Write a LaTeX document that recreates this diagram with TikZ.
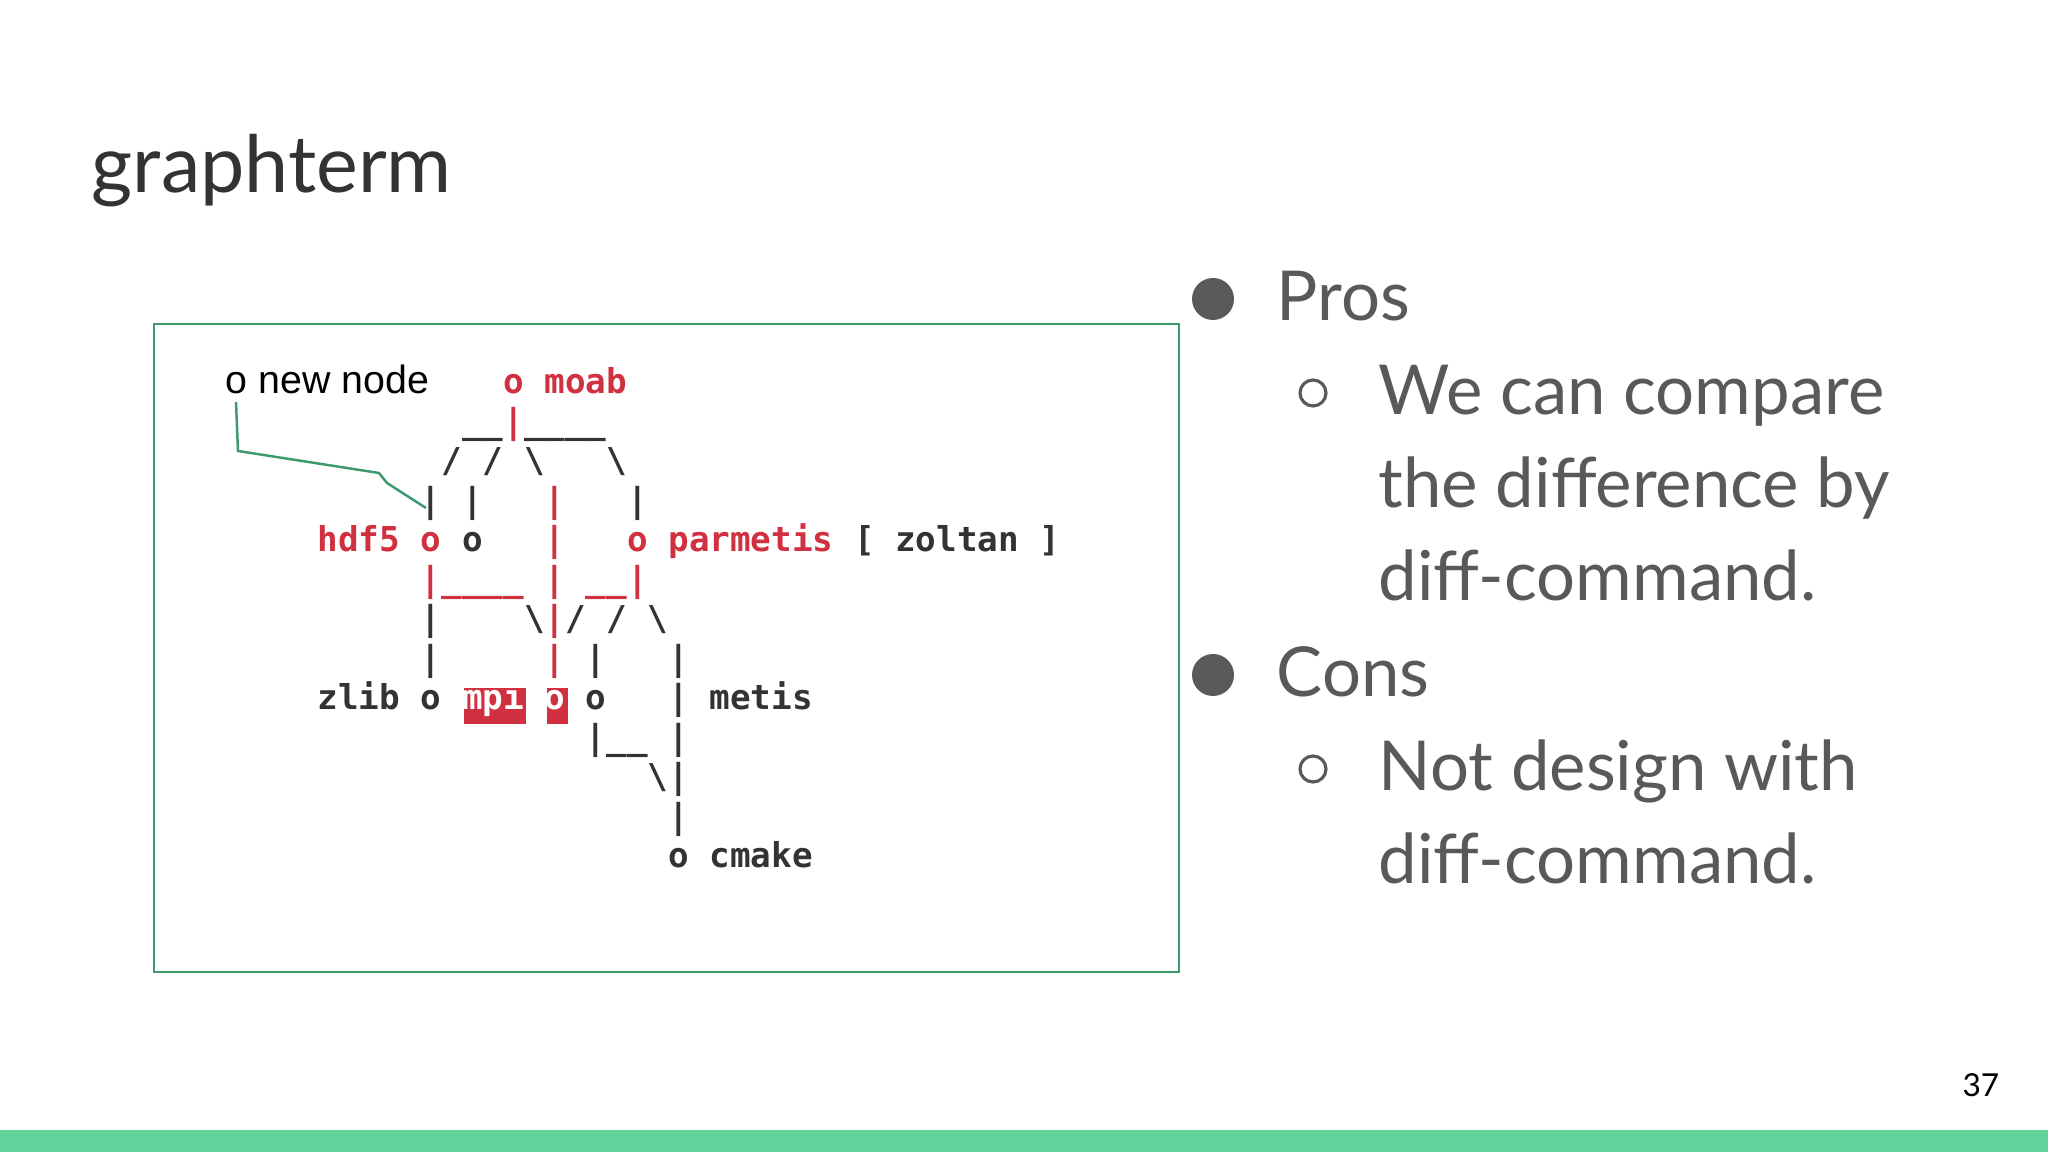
\documentclass[tikz,border=0pt]{standalone}
\usepackage{fontspec}
\setmainfont{Lato}
\newfontfamily\termfont{DejaVu Sans Mono Bold}
\newfontfamily\arialfont{Liberation Sans}
\definecolor{tr}{HTML}{D0303F}
\definecolor{tg}{HTML}{333333}
\definecolor{bx}{HTML}{3E9A6E}
\definecolor{bar}{HTML}{5FD39A}
\definecolor{txt}{HTML}{595959}
\newcommand{\R}[1]{\textcolor{tr}{#1}}
\newcommand{\W}[1]{\textcolor{white}{#1}}
\newcommand{\bs}{\textbackslash}
\tikzset{
  row/.style={anchor=base west,inner sep=0pt,font=\termfont\fontsize{9.75}{11}\selectfont,text=tg},
  bigdot/.style={circle,fill=txt,minimum size=4.2mm,inner sep=0pt},
  smalldot/.style={circle,draw=txt,line width=0.9pt,minimum size=2.6mm,inner sep=0pt},
  btxt/.style={anchor=base west,inner sep=0pt,text=txt,font=\fontsize{19.6}{24}\selectfont}
}
\begin{document}
\begin{tikzpicture}[x=0.1mm,y=-0.1mm]
\useasboundingbox (0,0) rectangle (2048,1152);
\fill[bar] (0,1130) rectangle (2048,1152);
\node[anchor=base west,inner sep=0pt,text=tg,font=\fontsize{22.5}{26}\selectfont] (title) at (91,193) {graphterm};
\node[anchor=base east,inner sep=0pt,text=black,font=\fontsize{9}{11}\selectfont] (pg) at (2000,1096) {37};
% box
\draw[bx,line width=0.7pt] (154,324) rectangle (1179,972);
% highlight
\fill[tr] (464,688) rectangle (526,724);
\fill[tr] (547,688) rectangle (568,724);
% terminal rows
\node[row] (r0) at (317,394) {~~~~~~~~~\R{o~moab}};
\node[row] (r1) at (317,433.5) {~~~~~~~\_\_\R{|}\_\_\_\_};
\node[row] (r2) at (317,473) {~~~~~~/~/~\bs~~~\bs};
\node[row] (r3) at (317,512.5) {~~~~~|~|~~~\R{|}~~~|};
\node[row] (r4) at (317,552) {\R{hdf5~o}~o~~~\R{|}~~~\R{o~parmetis}~[~zoltan~]};
\node[row] (r5) at (317,591.5) {~~~~~\R{|\_\_\_\_}~\R{|}~\R{\_\_|}};
\node[row] (r6) at (317,631) {~~~~~|~~~~\bs\R{|}/~/~\bs};
\node[row] (r7) at (317,670.5) {~~~~~|~~~~~\R{|}~|~~~|};
\node[row] (r8) at (317,710) {zlib~o~\W{mpi}~\W{o}~o~~~|~metis};
\node[row] (r9) at (317,749.5) {~~~~~~~~~~~~~|\_\_~|};
\node[row] (r10) at (317,789) {~~~~~~~~~~~~~~~~\bs|};
\node[row] (r11) at (317,828.5) {~~~~~~~~~~~~~~~~~|};
\node[row] (r12) at (317,868) {~~~~~~~~~~~~~~~~~o~cmake};
% annotation
\node[anchor=base west,inner sep=0pt,font=\arialfont\fontsize{11.2}{13}\selectfont] (nn) at (225,394) {o new node};
\coordinate (p1) at (236,402);
\coordinate (p2) at (238,451);
\coordinate (p3) at (379,473);
\coordinate (p4) at (387,483);
\coordinate (p5) at (426,508);
\draw[bx,line width=0.7pt] (p1) -- (p2) -- (p3) -- (p4) -- (p5);
% bullets
\node[bigdot] (d1) at (1213,299) {};
\node[btxt] (pros) at (1276,321) {Pros};
\node[smalldot] (s1) at (1313,393) {};
\node[btxt] (l1) at (1378,415) {We can compare};
\node[btxt] (l2) at (1378,508) {the difference by};
\node[btxt] (l3) at (1378,601) {diff-command.};
\node[bigdot] (d2) at (1213,675) {};
\node[btxt] (cons) at (1276,697) {Cons};
\node[smalldot] (s2) at (1313,769) {};
\node[btxt] (l4) at (1378,791) {Not design with};
\node[btxt] (l5) at (1378,884) {diff-command.};
\end{tikzpicture}
\end{document}
